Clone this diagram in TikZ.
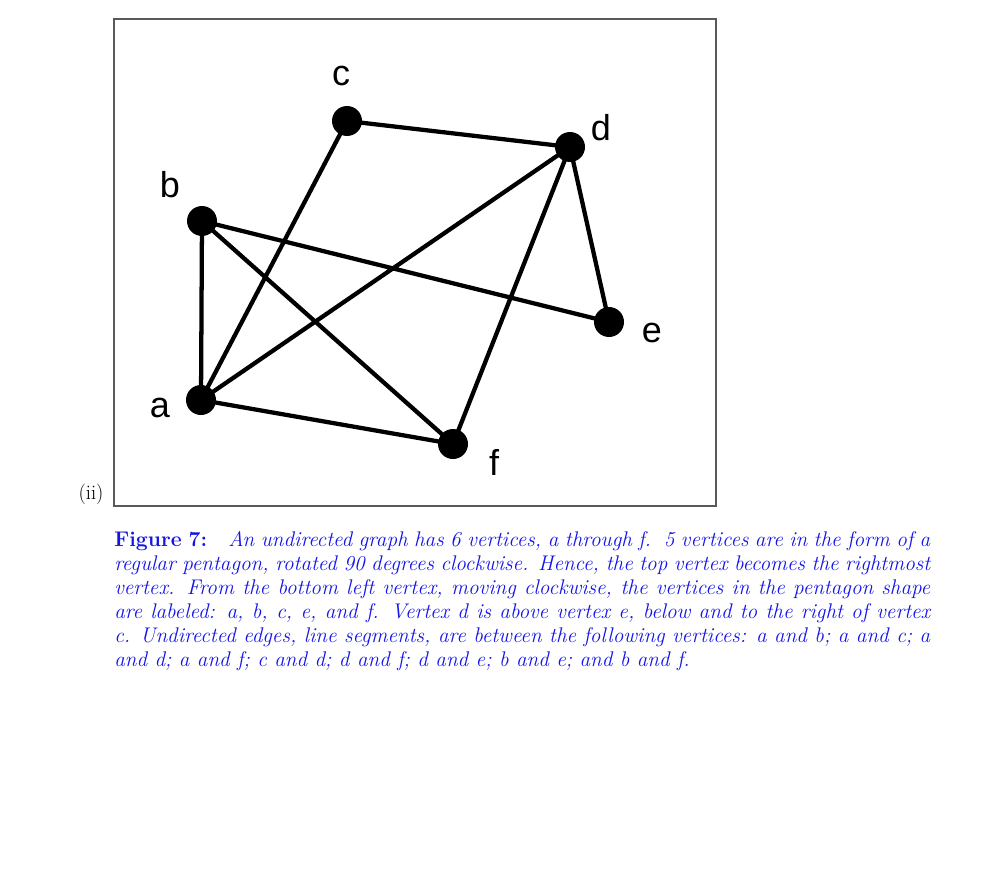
\documentclass[tikz,border=0pt]{standalone}
\usepackage{fontspec}
\newfontfamily\lab{Liberation Sans}
\definecolor{capblue}{RGB}{20,20,230}
\begin{document}
\begin{tikzpicture}[x=0.75pt,y=-0.75pt,
  vtx/.style={circle,fill=black,minimum size=22.5pt,inner sep=0pt},
  lbl/.style={font=\lab\fontsize{27}{27}\selectfont,inner sep=0pt},
  edge/.style={line width=3.2pt}]
\useasboundingbox (0,0) rectangle (1008,878);
\draw[gray!70!black,line width=0.8pt] (114,19) rectangle (716,506);
\node[vtx] (a) at (201,400) {};
\node[vtx] (b) at (202,221) {};
\node[vtx] (c) at (347,121) {};
\node[vtx] (d) at (570,147) {};
\node[vtx] (e) at (609,322) {};
\node[vtx] (f) at (453,444) {};
\node[lbl] (la) at (160,408) {a};
\node[lbl] (lb) at (170,185) {b};
\node[lbl] (lc) at (341,76) {c};
\node[lbl] (ld) at (601,128) {d};
\node[lbl] (le) at (652,333) {e};
\node[lbl] (lf) at (494,462) {f};
\draw[edge] (a.center)--(b.center) (a.center)--(c.center) (a.center)--(d.center) (a.center)--(f.center)
  (c.center)--(d.center) (d.center)--(f.center) (d.center)--(e.center) (b.center)--(e.center) (b.center)--(f.center);
\node[font=\fontsize{15.5}{18}\selectfont] (ii) at (91,494) {(ii)};
\node[anchor=north west,inner sep=0pt,text width=612pt,align=justify,text=capblue,
  font=\fontsize{15.9}{18}\selectfont] (cap) at (114,531)
  {\textbf{Figure 7:}\quad\itshape An undirected graph has 6 vertices, a through f.\ \ 5 vertices are in the form of a regular pentagon, rotated 90 degrees clockwise. Hence, the top vertex becomes the rightmost vertex. From the bottom left vertex, moving clockwise, the vertices in the pentagon shape are labeled: a, b, c, e, and f. Vertex d is above vertex e, below and to the right of vertex c. Undirected edges, line segments, are between the following vertices: a and b; a and c; a and d; a and f; c and d; d and f; d and e; b and e; and b and f.};
\end{tikzpicture}
\end{document}
